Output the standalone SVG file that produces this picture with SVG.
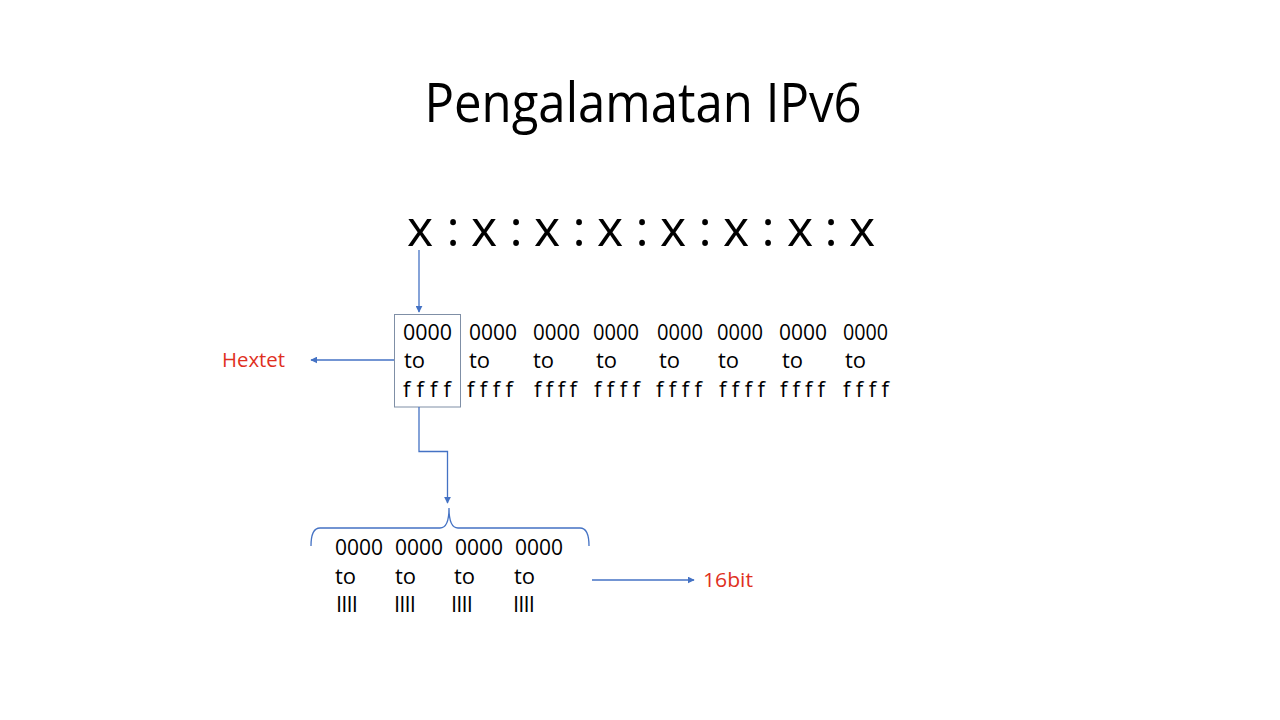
<svg xmlns="http://www.w3.org/2000/svg" width="1280" height="720" viewBox="0 0 1280 720">
<defs>
<style>
.t{font-family:"Open Sans","Liberation Sans",sans-serif;fill:#000;font-variant-ligatures:none;font-feature-settings:"liga" 0,"clig" 0}
.h{font-size:22px}
.r{font-family:"Open Sans","Liberation Sans",sans-serif;fill:#E0301E;font-size:20px}
.ln{fill:none;stroke:#4472C4;stroke-width:1.3}
</style>
<marker id="ah" viewBox="0 0 10 10" refX="9" refY="5" markerWidth="7" markerHeight="7" orient="auto" markerUnits="userSpaceOnUse">
<path d="M0,0 L10,5 L0,10 z" fill="#4472C4"/>
</marker>
</defs>
<rect width="1280" height="720" fill="#fff"/>
<g id="title">
<text class="t" x="643" y="122" font-size="54" text-anchor="middle" textLength="437" lengthAdjust="spacingAndGlyphs">Pengalamatan IPv6</text>
</g>
<g id="address" class="t" font-size="50" text-anchor="middle">
<text x="420" y="246">x</text><text x="453" y="246">:</text>
<text x="484" y="246">x</text><text x="516" y="246">:</text>
<text x="547" y="246">x</text><text x="579" y="246">:</text>
<text x="610" y="246">x</text><text x="642" y="246">:</text>
<text x="673" y="246">x</text><text x="705" y="246">:</text>
<text x="736" y="246">x</text><text x="768" y="246">:</text>
<text x="800" y="246">x</text><text x="831" y="246">:</text>
<text x="862" y="246">x</text>
</g>
<g id="hextet-box">
<rect x="394.5" y="314.5" width="66" height="92.5" fill="none" stroke="#7F8FA6" stroke-width="1"/>
</g>
<g id="hextets" class="t h">
<text x="403" y="340" textLength="49" lengthAdjust="spacingAndGlyphs">0000</text>
<text x="469" y="340" textLength="48" lengthAdjust="spacingAndGlyphs">0000</text>
<text x="533" y="340" textLength="47" lengthAdjust="spacingAndGlyphs">0000</text>
<text x="593" y="340" textLength="46" lengthAdjust="spacingAndGlyphs">0000</text>
<text x="657" y="340" textLength="46" lengthAdjust="spacingAndGlyphs">0000</text>
<text x="717" y="340" textLength="46" lengthAdjust="spacingAndGlyphs">0000</text>
<text x="779" y="340" textLength="48" lengthAdjust="spacingAndGlyphs">0000</text>
<text x="843" y="340" textLength="45" lengthAdjust="spacingAndGlyphs">0000</text>
<text x="404" y="368">to</text>
<text x="469" y="368">to</text>
<text x="533" y="368">to</text>
<text x="596" y="368">to</text>
<text x="659" y="368">to</text>
<text x="718" y="368">to</text>
<text x="782" y="368">to</text>
<text x="845" y="368">to</text>
<text x="403" y="397" textLength="48" lengthAdjust="spacing">ffff</text>
<text x="467" y="397" textLength="46" lengthAdjust="spacing">ffff</text>
<text x="534" y="397" textLength="43" lengthAdjust="spacing">ffff</text>
<text x="594" y="397" textLength="46" lengthAdjust="spacing">ffff</text>
<text x="656" y="397" textLength="46" lengthAdjust="spacing">ffff</text>
<text x="719" y="397" textLength="46" lengthAdjust="spacing">ffff</text>
<text x="780" y="397" textLength="45" lengthAdjust="spacing">ffff</text>
<text x="843" y="397" textLength="46" lengthAdjust="spacing">ffff</text>
</g>
<g id="hextet-label">
<text class="r" x="222" y="367" textLength="63" lengthAdjust="spacingAndGlyphs">Hextet</text>
</g>
<g id="bits" class="t h">
<text x="335" y="555" textLength="48" lengthAdjust="spacingAndGlyphs">0000</text>
<text x="395" y="555" textLength="48" lengthAdjust="spacingAndGlyphs">0000</text>
<text x="455" y="555" textLength="48" lengthAdjust="spacingAndGlyphs">0000</text>
<text x="515" y="555" textLength="48" lengthAdjust="spacingAndGlyphs">0000</text>
<text x="335" y="584">to</text>
<text x="395" y="584">to</text>
<text x="454" y="584">to</text>
<text x="514" y="584">to</text>
<text x="336" y="612" textLength="22" lengthAdjust="spacing">IIII</text>
<text x="394" y="612" textLength="22" lengthAdjust="spacing">IIII</text>
<text x="451" y="612" textLength="22" lengthAdjust="spacing">IIII</text>
<text x="513" y="612" textLength="22" lengthAdjust="spacing">IIII</text>
</g>
<g id="bit-label">
<text class="r" x="703" y="587" textLength="50" lengthAdjust="spacingAndGlyphs">16bit</text>
</g>
<g id="brace">
<path class="ln" d="M311,546 Q311,528 320,528 L440,528 Q449,528 449,508 Q449,528 458,528 L580,528 Q589,528 589,546"/>
</g>
<g id="connectors">
<path class="ln" d="M419,250 L419,312" marker-end="url(#ah)"/>
<path class="ln" d="M394,360 L311,360" marker-end="url(#ah)"/>
<path class="ln" d="M419,407 L419,451.5 L447.5,451.5 L447.5,503" marker-end="url(#ah)"/>
<path class="ln" d="M592,580 L694,580" marker-end="url(#ah)"/>
</g>
</svg>
